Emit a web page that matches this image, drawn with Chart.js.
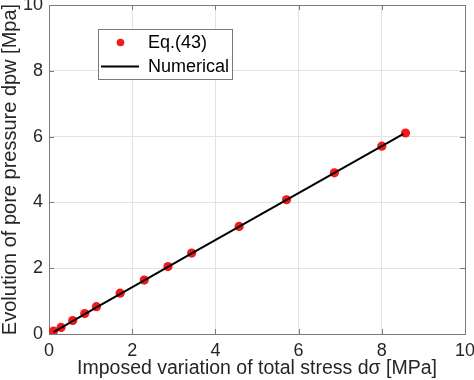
<!DOCTYPE html>
<html><head><meta charset="utf-8">
<style>
html,body{margin:0;padding:0;background:#fff;overflow:hidden;width:474px;height:380px;position:relative;}
#wrap{position:absolute;left:0;top:-12px;width:500px;height:392px;}
</style>
<script src="https://cdn.jsdelivr.net/npm/chart.js@4"></script>
</head><body>
<div id="wrap"><canvas id="c" width="500" height="392"></canvas></div>
<script>
const xTicks = [0, 2, 4, 6, 8, 10];
const yTicks = [0, 2, 4, 6, 8, 10];
const xEq = [0.11, 0.29, 0.57, 0.86, 1.14, 1.71, 2.29, 2.86, 3.43, 4.57, 5.71, 6.86, 8.00, 8.57];
const yEq = [0.09, 0.20, 0.41, 0.62, 0.83, 1.24, 1.64, 2.05, 2.46, 3.27, 4.08, 4.90, 5.71, 6.11];
const xNum = [0.11, 1.14, 2.29, 3.43, 4.57, 5.71, 6.86, 8.00, 8.52];
const yNum = [0.06, 0.81, 1.63, 2.45, 3.26, 4.08, 4.90, 5.71, 6.08];
const seriesNames = ['Eq.(43)', 'Numerical'];
const xTitle = 'Imposed variation of total stress d\u03C3 [MPa]';
const yTitle = 'Evolution of pore pressure dpw [Mpa]';

const FONT = '"Liberation Sans", Arial, sans-serif';
const TXT = '#262626';
const AX = '#7a7a7a';

const boxPlugin = {
  id: 'boxTicks',
  beforeDatasetsDraw(chart) {
    const {ctx, chartArea: a, scales} = chart;
    ctx.save();
    ctx.strokeStyle = AX;
    ctx.lineWidth = 1;
    const L = 5;
    xTicks.forEach(v => {
      const px = Math.round(scales.x.getPixelForValue(v)) + 0.5;
      ctx.beginPath();
      ctx.moveTo(px, a.bottom); ctx.lineTo(px, a.bottom - L);
      ctx.moveTo(px, a.top); ctx.lineTo(px, a.top + L);
      ctx.stroke();
    });
    yTicks.forEach(v => {
      const py = Math.round(scales.y.getPixelForValue(v)) + 0.5;
      ctx.beginPath();
      ctx.moveTo(a.left, py); ctx.lineTo(a.left + L, py);
      ctx.moveTo(a.right, py); ctx.lineTo(a.right - L, py);
      ctx.stroke();
    });
    ctx.strokeRect(Math.round(a.left) + 0.5, Math.round(a.top) + 0.5, Math.round(a.right - a.left), Math.round(a.bottom - a.top));
    ctx.restore();
  },
  afterDraw(chart) {
    const {ctx} = chart;
    const ds = chart.data.datasets;
    const oy = 12; // page offset of the canvas
    ctx.save();
    const bx = 98.5, by = 29.5 + oy, bw = 134, bh = 50;
    ctx.fillStyle = '#fff';
    ctx.fillRect(bx, by, bw, bh);
    ctx.strokeStyle = AX;
    ctx.lineWidth = 1;
    ctx.strokeRect(bx, by, bw, bh);
    ctx.fillStyle = ds[0].backgroundColor;
    ctx.beginPath();
    ctx.arc(120.5, 42.5 + oy, 3.8, 0, Math.PI * 2);
    ctx.fill();
    ctx.strokeStyle = ds[1].borderColor;
    ctx.lineWidth = 2;
    ctx.beginPath();
    ctx.moveTo(101, 66.5 + oy); ctx.lineTo(139, 66.5 + oy);
    ctx.stroke();
    ctx.fillStyle = '#000';
    ctx.font = '18px ' + FONT;
    ctx.textBaseline = 'middle';
    ctx.fillText(seriesNames[0], 148, 43 + oy);
    ctx.fillText(seriesNames[1], 148, 67 + oy);
    ctx.restore();
  }
};

new Chart(document.getElementById('c'), {
  type: 'scatter',
  data: {
    datasets: [
      {
        label: seriesNames[0],
        data: xEq.map((x, i) => ({x, y: yEq[i]})),
        backgroundColor: '#f21a1a',
        borderColor: '#f21a1a',
        pointRadius: 4.6,
        pointBorderWidth: 0,
        showLine: false,
        order: 1
      },
      {
        label: seriesNames[1],
        data: xNum.map((x, i) => ({x, y: yNum[i]})),
        borderColor: '#000',
        backgroundColor: '#000',
        borderWidth: 2,
        pointRadius: 0,
        showLine: true,
        order: 0
      }
    ]
  },
  options: {
    responsive: false,
    animation: false,
    devicePixelRatio: 1,
    layout: {padding: {top: 17, right: 35, left: 0, bottom: 0}},
    plugins: {legend: {display: false}, tooltip: {enabled: false}},
    scales: {
      x: {
        type: 'linear', min: 0, max: 10,
        afterBuildTicks: s => { s.ticks = xTicks.map(v => ({value: v})); },
        afterFit: s => { s.height = 46; },
        grid: {color: '#e3e3e3', drawTicks: false, lineWidth: 1},
        border: {display: false},
        ticks: {color: TXT, font: {family: FONT, size: 18}, padding: 6, maxRotation: 0},
        title: {display: true, text: xTitle, color: TXT, font: {family: FONT, size: 19.5}, padding: {top: 0, bottom: 0}}
      },
      y: {
        type: 'linear', min: 0, max: 10,
        afterBuildTicks: s => { s.ticks = yTicks.map(v => ({value: v})); },
        afterFit: s => { s.width = 49; },
        grid: {color: '#e3e3e3', drawTicks: false, lineWidth: 1},
        border: {display: false},
        ticks: {color: TXT, font: {family: FONT, size: 18}, padding: 6},
        title: {display: true, text: yTitle, color: TXT, font: {family: FONT, size: 20, lineHeight: 1.0}, padding: {top: 0, bottom: 0}}
      }
    }
  },
  plugins: [boxPlugin]
});
</script>
</body></html>
